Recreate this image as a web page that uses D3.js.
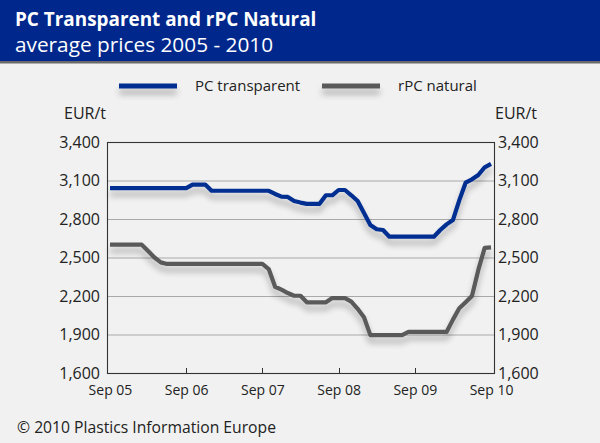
<!DOCTYPE html>
<html>
<head>
<meta charset="utf-8">
<script src="https://cdn.jsdelivr.net/npm/d3@7"></script>
<style>
  html, body { margin: 0; padding: 0; background: #f0f1f0; }
  svg { display: block; }
  text { font-family: "Open Sans", "Noto Sans", sans-serif; }
</style>
</head>
<body>
<svg id="chart" width="600" height="443"></svg>
<script>
// ---- Data (monthly, Sep 2005 .. Sep 2010) ----
const tickLabels = ["Sep 05", "Sep 06", "Sep 07", "Sep 08", "Sep 09", "Sep 10"];
const yTicks = [1600, 1900, 2200, 2500, 2800, 3100, 3400];
const seriesNames = ["PC transparent", "rPC natural"];

const pcTransparent = [
  3040, 3040, 3040, 3040, 3040, 3040, 3040, 3040, 3040, 3040, 3040, 3040, 3040,
  3068, 3068, 3068,
  3020, 3020, 3020, 3020, 3020, 3020, 3020, 3020, 3020, 3020,
  2995, 2974, 2972, 2940, 2928, 2918, 2918, 2918,
  2985, 2985, 3026, 3026, 2985, 2940, 2847, 2753, 2720, 2714,
  2662, 2662, 2662, 2662, 2662, 2662, 2662, 2662,
  2714, 2758, 2792, 2945, 3083, 3109, 3143, 3203, 3229
];

const rpcNatural = [
  2600, 2600, 2600, 2600, 2600, 2600,
  2550, 2500, 2462,
  2450, 2450, 2450, 2450, 2450, 2450, 2450, 2450, 2450, 2450, 2450, 2450, 2450, 2450, 2450, 2450,
  2410, 2272, 2249, 2223, 2202, 2202,
  2151, 2151, 2151, 2151,
  2184, 2184, 2184,
  2156, 2100, 2034, 1895, 1895, 1895, 1895, 1895, 1895,
  1920, 1920, 1920, 1920, 1920, 1920, 1920,
  2016, 2104, 2151, 2200, 2403, 2575, 2579
];

// ---- Layout ----
const svg = d3.select("#chart");
const W = 600, H = 443;
const plot = { left: 107, right: 494, top: 142, bottom: 373 };
const blue = "#032f91";
const grey = "#5a5a5a";

const x = d3.scaleLinear().domain([-0.47, 60.47]).range([plot.left, plot.right]);
const y = d3.scaleLinear().domain([1600, 3400]).range([plot.bottom, plot.top]);

const defs = svg.append("defs");
const f = defs.append("filter").attr("id", "shadow")
  .attr("filterUnits", "userSpaceOnUse")
  .attr("x", 0).attr("y", 0).attr("width", W).attr("height", H);
f.append("feGaussianBlur").attr("in", "SourceAlpha").attr("stdDeviation", 3.2).attr("result", "b");
f.append("feOffset").attr("in", "b").attr("dx", 0).attr("dy", 6).attr("result", "o");
f.append("feComponentTransfer").attr("in", "o").attr("result", "s")
  .append("feFuncA").attr("type", "linear").attr("slope", 0.28);
const m = f.append("feMerge");
m.append("feMergeNode").attr("in", "s");
m.append("feMergeNode").attr("in", "SourceGraphic");

// background
svg.append("rect").attr("width", W).attr("height", H).attr("fill", "#f0f1f0");

// header
svg.append("rect").attr("x", 0).attr("y", 0).attr("width", W).attr("height", 61).attr("fill", "#00288c");
svg.append("rect").attr("x", 0).attr("y", 61).attr("width", W).attr("height", 2.5).attr("fill", "#6a6a6a");
svg.append("text").attr("x", 15).attr("y", 25.5).attr("fill", "#fff")
  .attr("font-size", 18.9).attr("font-weight", "bold").text("PC Transparent and rPC Natural");
svg.append("text").attr("x", 15).attr("y", 51.5).attr("fill", "#fff")
  .attr("font-size", 20.8).text("average prices 2005 - 2010");

// legend
const legend = [
  { name: seriesNames[0], color: blue, x1: 119, x2: 177, tx: 195 },
  { name: seriesNames[1], color: grey, x1: 322, x2: 380, tx: 398 }
];
legend.forEach(d => {
  svg.append("rect").attr("x", d.x1).attr("y", 83.5).attr("width", d.x2 - d.x1).attr("height", 5)
    .attr("fill", d.color).attr("filter", "url(#shadow)");
  svg.append("text").attr("x", d.tx).attr("y", 91).attr("font-size", 15).attr("fill", "#222").text(d.name);
});

// unit labels
svg.append("text").attr("x", 106).attr("y", 119).attr("text-anchor", "end")
  .attr("font-size", 16).attr("fill", "#222").text("EUR/t");
svg.append("text").attr("x", 495).attr("y", 119)
  .attr("font-size", 16).attr("fill", "#222").text("EUR/t");

// gridlines
svg.append("g").selectAll("line").data(yTicks.filter(v => v > 1600 && v < 3400)).join("line")
  .attr("x1", plot.left).attr("x2", plot.right)
  .attr("y1", d => y(d) + 0.5).attr("y2", d => y(d) + 0.5)
  .attr("stroke", "#a9a9a9").attr("stroke-width", 1.2);

// y axes
const fmt = d3.format(",");
const leftAxis = d3.axisLeft(y).tickValues(yTicks).tickSize(0).tickPadding(7).tickFormat(fmt);
const rightAxis = d3.axisRight(y).tickValues(yTicks).tickSize(0).tickPadding(4).tickFormat(fmt);
const gl = svg.append("g").attr("transform", `translate(${plot.left},0)`).call(leftAxis);
const gr = svg.append("g").attr("transform", `translate(${plot.right},0)`).call(rightAxis);
[gl, gr].forEach(g => {
  g.select(".domain").remove();
  g.selectAll("text").attr("font-size", 16).attr("fill", "#222")
    .attr("font-family", "\"Open Sans\", sans-serif");
});

// x axis
const xAxis = d3.axisBottom(x).tickValues([0, 12, 24, 36, 48, 60]).tickSize(0).tickPadding(12)
  .tickFormat((d, i) => tickLabels[i]);
const gx = svg.append("g").attr("transform", `translate(0,${plot.bottom})`).call(xAxis);
gx.select(".domain").remove();
gx.selectAll("text").attr("font-size", 14).attr("fill", "#222")
  .attr("font-family", "\"Open Sans\", sans-serif");
// inner tick marks
svg.append("g").selectAll("line").data([12, 24, 36, 48]).join("line")
  .attr("x1", d => Math.round(x(d)) + 0.5).attr("x2", d => Math.round(x(d)) + 0.5)
  .attr("y1", plot.bottom).attr("y2", plot.bottom - 5)
  .attr("stroke", "#333").attr("stroke-width", 1);

// frame
svg.append("rect").attr("x", plot.left + 0.5).attr("y", plot.top + 0.5)
  .attr("width", plot.right - plot.left).attr("height", plot.bottom - plot.top)
  .attr("fill", "none").attr("stroke", "#333").attr("stroke-width", 1.1);

// lines
const line = d3.line().x((d, i) => x(i)).y(d => y(d));
[[rpcNatural, grey], [pcTransparent, blue]].forEach(([data, color]) => {
  svg.append("path").datum(data).attr("d", line)
    .attr("fill", "none").attr("stroke", color).attr("stroke-width", 4.2)
    .attr("stroke-linejoin", "round").attr("stroke-linecap", "butt")
    .attr("filter", "url(#shadow)");
});

// footer
svg.append("text").attr("x", 17).attr("y", 433).attr("font-size", 15.7).attr("fill", "#222")
  .text("\u00a9 2010 Plastics Information Europe");
</script>
</body>
</html>
